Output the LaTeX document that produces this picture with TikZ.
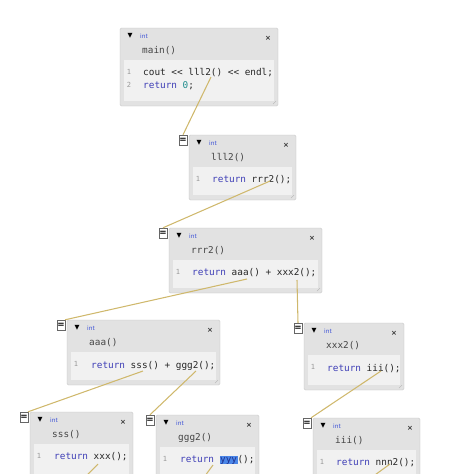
\documentclass[tikz,border=0pt]{standalone}
\usepackage{fontspec}
\setsansfont{DejaVu Sans}
\setmonofont{DejaVu Sans Mono}
\usetikzlibrary{positioning}

\definecolor{framefill}{HTML}{E2E2E2}
\definecolor{frameline}{HTML}{C2C2C2}
\definecolor{codefill}{HTML}{F1F1F1}
\definecolor{linkcol}{HTML}{CFB86C}
\definecolor{kw}{HTML}{3E3EB6}
\definecolor{typcol}{HTML}{3A4FD6}
\definecolor{numcol}{HTML}{1E8C8C}
\definecolor{namecol}{HTML}{444444}
\definecolor{codecol}{HTML}{262626}
\definecolor{selcol}{HTML}{4A86E8}
\definecolor{selfg}{HTML}{1E2F8C}

\begin{document}
\begin{tikzpicture}[
  x=0.03cm, y=-0.03cm,
  bubble/.style={draw=frameline, fill=framefill, rounded corners=1.2pt},
  codearea/.style={fill=codefill},
  grip/.style={draw=black!30, line width=0.3pt},
  tri/.style={font=\sffamily\fontsize{5.5}{5.5}\selectfont, inner sep=0pt},
  typ/.style={font=\sffamily\fontsize{5}{5}\selectfont, text=typcol,
              inner sep=0pt, anchor=west},
  cls/.style={font=\sffamily\bfseries\fontsize{6}{6}\selectfont,
              text=black!80, inner sep=0pt},
  fname/.style={font=\ttfamily\fontsize{8}{8}\selectfont, text=namecol,
                inner sep=0pt, anchor=base west},
  num/.style={font=\ttfamily\fontsize{6}{6}\selectfont, text=black!40,
              inner sep=0pt},
  code/.style={font=\ttfamily\fontsize{8}{8}\selectfont, text=codecol,
               inner sep=0pt, anchor=base west},
  icon/.style={draw=black!60, fill=white, inner sep=0pt, minimum width=6.5pt,
               minimum height=8.5pt, font=\sffamily\bfseries\fontsize{7.5}{7.5}\selectfont},
  link/.style={draw=linkcol, line width=0.9pt},
]

  \clip (0,0) rectangle (474,474);

  % --- Bubbles: x / y / width / height / name / has icon ---
  \foreach \x/\y/\w/\h/\n/\ic in {120/28/158/78/main/0, 189/135/107/65/lll2/1,
      169/228/153/65/rrr2/1, 67/320/153/65/aaa/1, 304/323/100/67/xxx2/1,
      30/412/103/70/sss/1, 156/415/103/70/ggg2/1, 313/418/107/70/iii/1} {
    \draw[bubble] (\x,\y) rectangle (\x+\w,\y+\h);
    \fill[codearea] (\x+4,\y+32) rectangle (\x+\w-4,\y+\h-5);
    \draw[grip] (\x+\w-2,\y+\h-5) -- (\x+\w-5,\y+\h-2);
    \node[tri] (tri-\n) at (\x+10,\y+8) {▼};
    \node[typ] (typ-\n) at (\x+20,\y+8) {int};
    \node[cls] (cls-\n) at (\x+\w-10,\y+10) {×};
    \node[fname] (name-\n) at (\x+22,\y+25) {\n()};
    \node[num] (num-\n) at (\x+9,\y+44) {1};
    \ifnum\ic=1
      \node[icon] (ico-\n) at (\x-6,\y+5) {=};
    \fi
  }

  % --- Code lines ---
  \node[code] (code-main) at (143,75) {cout << lll2() << endl;};
  \node[num] (num-main-2) at (129,85) {2};
  \node[code] (code-main-2) at (143,88)
    {\textcolor{kw}{return} \textcolor{numcol}{0};};
  \node[code] (code-lll2) at (212,182) {\textcolor{kw}{return} rrr2();};
  \node[code] (code-rrr2) at (192,275)
    {\textcolor{kw}{return} aaa() + xxx2();};
  \node[code] (code-aaa) at (91,368) {\textcolor{kw}{return} sss() + ggg2();};
  \node[code] (code-xxx2) at (327,371) {\textcolor{kw}{return} iii();};
  \node[code] (code-sss) at (54,459) {\textcolor{kw}{return} xxx();};
  \node[code] (code-ggg2) at (180,462)
    {\textcolor{kw}{return} {\setlength{\fboxsep}{0.4pt}%
     \colorbox{selcol}{\textcolor{selfg}{yyy}}}();};
  \node[code] (code-iii) at (336,465) {\textcolor{kw}{return} nnn2();};

  % --- Call sites ---
  \coordinate (call-lll2) at (211,77);
  \coordinate (call-rrr2) at (270,181);
  \coordinate (call-aaa) at (247,279);
  \coordinate (call-xxx2) at (297,280);
  \coordinate (call-sss) at (143,371);
  \coordinate (call-ggg2) at (196,371);
  \coordinate (call-iii) at (381,371);
  \coordinate (call-xxx) at (98,464);
  \coordinate (call-yyy) at (213,465);
  \coordinate (call-nnn2) at (390,464);
  \coordinate (off-xxx) at (82,480);
  \coordinate (off-yyy) at (202,480);
  \coordinate (off-nnn2) at (368,480);

  % --- Links ---
  \draw[link] (call-lll2) -- (ico-lll2.north);
  \draw[link] (call-rrr2) -- (ico-rrr2.north);
  \draw[link] (call-aaa) -- (ico-aaa.north east);
  \draw[link] (call-xxx2) -- (ico-xxx2.north);
  \draw[link] (call-sss) -- (ico-sss.north east);
  \draw[link] (call-ggg2) -- (ico-ggg2.north);
  \draw[link] (call-iii) -- (ico-iii.north east);
  \draw[link] (call-xxx) -- (off-xxx);
  \draw[link] (call-yyy) -- (off-yyy);
  \draw[link] (call-nnn2) -- (off-nnn2);

\end{tikzpicture}
\end{document}
